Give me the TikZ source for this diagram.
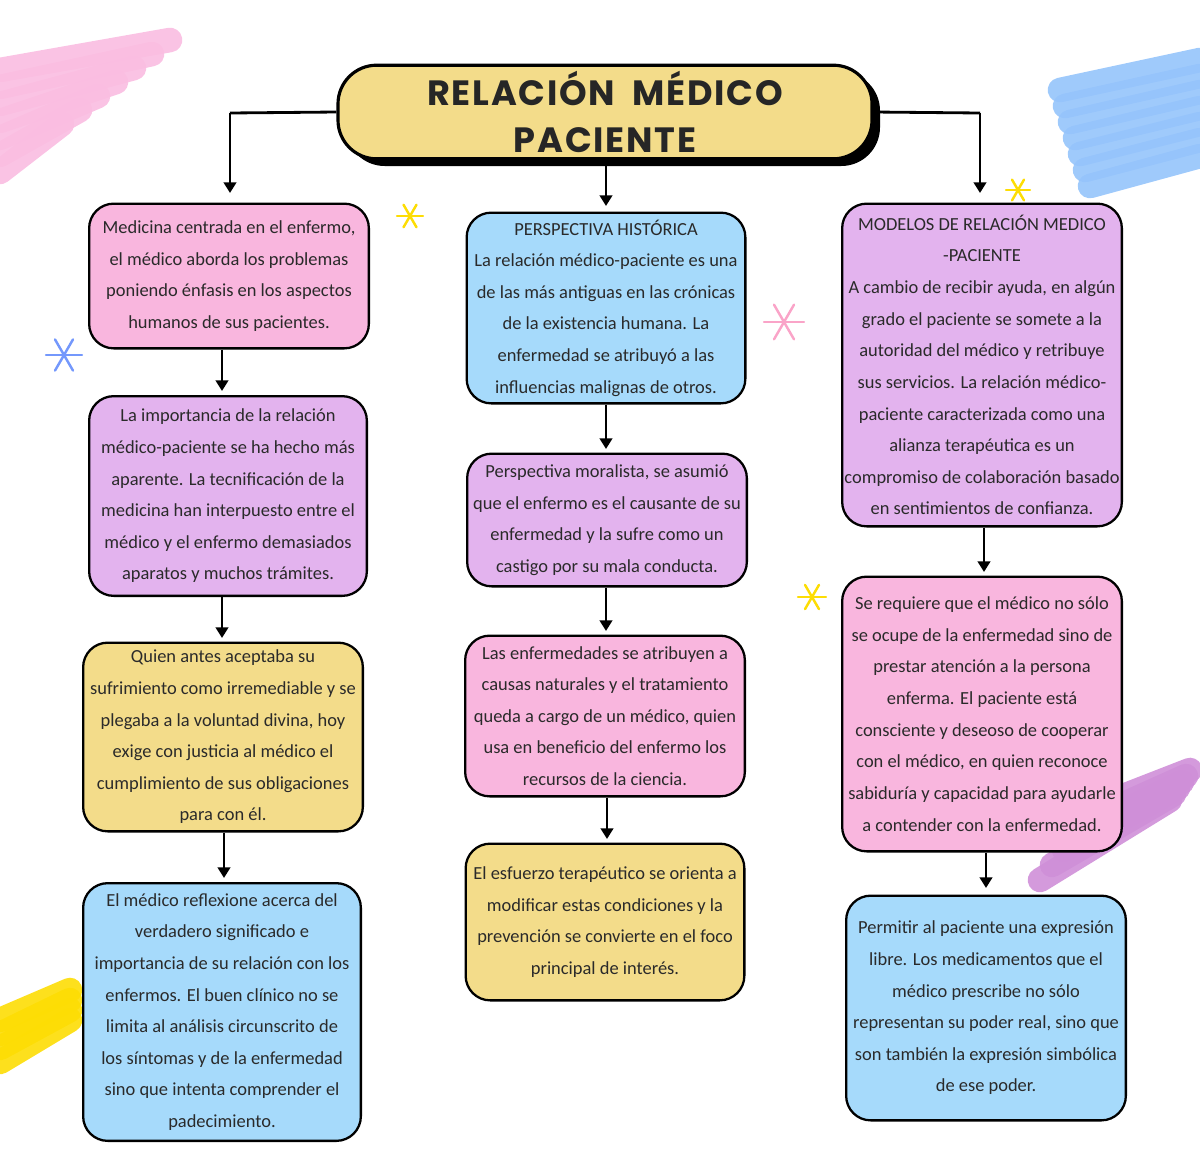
\documentclass[tikz,border=0pt]{standalone}
\usepackage{fontspec}
\setmainfont{Carlito}
\newfontfamily\titlefont{Poppins}
\usetikzlibrary{arrows.meta,calc}
\definecolor{cyel}{HTML}{F3DC8A}
\definecolor{cpink}{HTML}{F9B6DE}
\definecolor{clav}{HTML}{E3B3EE}
\definecolor{cblue}{HTML}{A6DAFB}
\definecolor{txt}{HTML}{2A2A2A}
\tikzset{
 bx/.style={draw=black,line width=1.3pt,rounded corners=14pt,align=center,inner sep=0pt,text=txt,font=\fontsize{10.5}{18}\selectfont},
 ar/.style={line width=1.6pt,-{Triangle[length=6pt,width=7pt]}},
 brush/.style={line width=14pt,line cap=round,opacity=0.9},
 star/.style={line width=1.4pt,line cap=round}
}
\newcommand{\bbox}[6]{\node[bx,fill=#6,minimum width=#3*0.02cm-1.3pt,minimum height=#4*0.02cm-1.3pt] (#1) at (#2) {#5};}
\begin{document}
\begin{tikzpicture}[x=0.02cm,y=-0.02cm]
\useasboundingbox (0,0) rectangle (1200,1160);
% decorations
\foreach \i in {0,...,6}{\draw[brush,cpink!90] (0,{70+\i*17}) -- ({170-\i*18},{40+\i*14});}
\foreach \i in {0,...,6}{\draw[brush,cblue!90!blue] ({1060+\i*5},{90+\i*16}) -- (1200,{60+\i*16});}
\foreach \i in {0,...,5}{\draw[brush,clav!80!violet] ({1040+\i*12},{880-\i*15}) -- ({1170+\i*4},{800-\i*6});}
\foreach \i in {0,...,3}{\draw[brush,yellow!80!orange] (0,{1020+\i*14}) -- (70,{990+\i*10});}
\foreach \c/\x/\y/\r in {cblue!70!blue/64/355/18, yellow!80!orange/410/216/13, cpink!90!red/784/322/20, yellow!80!orange/1018/190/12, yellow!80!orange/812/597/14}{
 \foreach \a in {0,60,120}{\draw[star,\c] ($(\x,\y)+(\a:\r)$) -- ($(\x,\y)+(\a+180:\r)$);}}
% title
\fill[black,rounded corners=22pt] (346,72) rectangle (880,166);
\node[draw=black,line width=1.8pt,fill=cyel,rounded corners=22pt,minimum width=534*0.02cm,minimum height=92*0.02cm,align=center,font=\titlefont\bfseries\fontsize{20}{27}\selectfont,text=black!85] (t) at (605,112) {R\kern1pt E\kern1pt L\kern1pt A\kern1pt C\kern1pt I\kern1pt Ó\kern1pt N\; M\kern1pt É\kern1pt D\kern1pt I\kern1pt C\kern1pt O\\P\kern1pt A\kern1pt C\kern1pt I\kern1pt E\kern1pt N\kern1pt T\kern1pt E};
% boxes
\bbox{l1}{229,276}{282}{147}{Medicina centrada en el enfermo,\\el médico aborda los problemas\\poniendo énfasis en los aspectos\\humanos de sus pacientes.}{cpink}
\bbox{l2}{228,496}{280}{202}{La importancia de la relación\\médico-paciente se ha hecho más\\aparente. La tecnificación de la\\medicina han interpuesto entre el\\médico y el enfermo demasiados\\aparatos y muchos trámites.}{clav}
\bbox{l3}{223,737}{282}{191}{Quien antes aceptaba su\\sufrimiento como irremediable y se\\plegaba a la voluntad divina, hoy\\exige con justicia al médico el\\cumplimiento de sus obligaciones\\para con él.}{cyel}
\bbox{l4}{222,1012}{280}{260}{El médico reflexione acerca del\\verdadero significado e\\importancia de su relación con los\\enfermos. El buen clínico no se\\limita al análisis circunscrito de\\los síntomas y de la enfermedad\\sino que intenta comprender el\\padecimiento.}{cblue}
\bbox{m1}{606,308}{281}{193}{PERSPECTIVA HISTÓRICA\\La relación médico-paciente es una\\de las más antiguas en las crónicas\\de la existencia humana. La\\enfermedad se atribuyó a las\\influencias malignas de otros.}{cblue}
\bbox{m2}{607,520}{282}{135}{Perspectiva moralista, se asumió\\que el enfermo es el causante de su\\enfermedad y la sufre como un\\castigo por su mala conducta.}{clav}
\bbox{m3}{605,716}{282}{163}{Las enfermedades se atribuyen a\\causas naturales y el tratamiento\\queda a cargo de un médico, quien\\usa en beneficio del enfermo los\\recursos de la ciencia.}{cpink}
\bbox{m4}{605,922}{281}{159}{El esfuerzo terapéutico se orienta a\\modificar estas condiciones y la\\prevención se convierte en el foco\\principal de interés.}{cyel}
\bbox{r1}{982,365}{282}{325}{MODELOS DE RELACIÓN MEDICO\\-PACIENTE\\A cambio de recibir ayuda, en algún\\grado el paciente se somete a la\\autoridad del médico y retribuye\\sus servicios. La relación médico-\\paciente caracterizada como una\\alianza terapéutica es un\\compromiso de colaboración basado\\en sentimientos de confianza.}{clav}
\bbox{r2}{982,714}{282}{277}{Se requiere que el médico no sólo\\se ocupe de la enfermedad sino de\\prestar atención a la persona\\enferma. El paciente está\\consciente y deseoso de cooperar\\con el médico, en quien reconoce\\sabiduría y capacidad para ayudarle\\a contender con la enfermedad.}{cpink}
\bbox{r3}{986,1008}{282}{227}{Permitir al paciente una expresión\\libre. Los medicamentos que el\\médico prescribe no sólo\\representan su poder real, sino que\\son también la expresión simbólica\\de ese poder.}{cblue}
% connectors
\coordinate (c1) at (230,113); \coordinate (c2) at (980,113);
\draw[line width=1.6pt] (t.west) -- (c1);
\draw[ar] (c1) -- (230,193);
\draw[line width=1.6pt] (t.east) -- (c2);
\draw[ar] (c2) -- (980,193);
\draw[ar] (t.south -| 606,0) -- (606,206);
\draw[ar] (l1.south -| 222,0) -- (222,391);
\draw[ar] (l2.south -| 222,0) -- (222,638);
\draw[ar] (l3.south -| 224,0) -- (224,878);
\draw[ar] (m1.south -| 606,0) -- (606,449);
\draw[ar] (m2.south -| 606,0) -- (606,631);
\draw[ar] (m3.south -| 607,0) -- (607,839);
\draw[ar] (r1.south -| 984,0) -- (984,572);
\draw[ar] (r2.south -| 986,0) -- (986,888);
\end{tikzpicture}
\end{document}
